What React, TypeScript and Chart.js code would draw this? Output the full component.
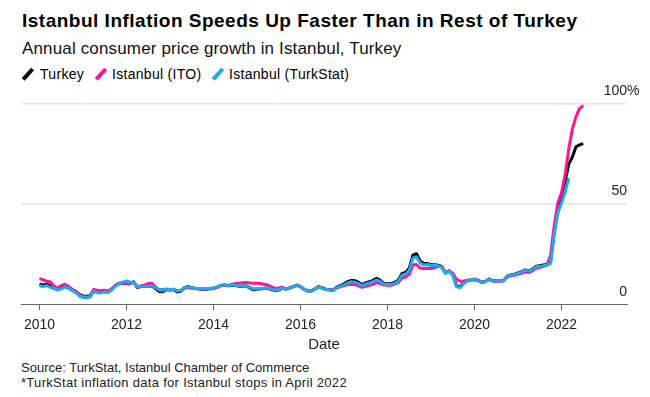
import { useEffect, useRef } from "react";
import { Chart, registerables } from "chart.js";

Chart.register(...registerables);

const FONT = "'Liberation Sans', Arial, Helvetica, sans-serif";

const titleText = "Istanbul Inflation Speeds Up Faster Than in Rest of Turkey";
const subtitleText = "Annual consumer price growth in Istanbul, Turkey";
const sourceText = "Source: TurkStat, Istanbul Chamber of Commerce";
const noteText = "*TurkStat inflation data for Istanbul stops in April 2022";
const xTitle = "Date";

// Monthly series, first observation February 2010
const startYear = 2010;
const startMonth = 2;

const seriesNames = ["Turkey", "Istanbul (ITO)", "Istanbul (TurkStat)"];
const seriesColors = ["#000000", "#ff1493", "#1aa9f2"];

const turkey = [
  10.13, 9.56, 10.19, 9.1, 8.37, 7.58, 8.33, 9.24, 8.62, 7.29, 6.4,
  4.9, 4.16, 3.99, 4.26, 7.17, 6.24, 6.31, 6.65, 6.15, 7.66, 9.48, 10.45,
  10.61, 10.43, 10.43, 11.14, 8.28, 8.87, 9.07, 8.88, 9.19, 7.8, 6.37, 6.16,
  7.31, 7.03, 7.29, 6.13, 6.51, 8.3, 8.88, 8.17, 7.88, 7.71, 7.32, 7.4,
  7.75, 7.89, 8.39, 9.38, 9.66, 9.16, 9.32, 9.54, 8.86, 8.96, 9.15, 8.17,
  7.24, 7.55, 7.61, 7.91, 8.09, 7.2, 6.81, 7.14, 7.95, 7.58, 8.1, 8.81,
  9.58, 8.78, 7.46, 6.57, 6.58, 7.64, 8.79, 8.05, 7.28, 7.16, 7.0, 8.53,
  9.22, 10.13, 11.29, 11.87, 11.72, 10.9, 9.79, 10.68, 11.2, 11.9, 12.98, 11.92,
  10.35, 10.26, 10.23, 10.85, 12.15, 15.39, 15.85, 17.9, 24.52, 25.24, 21.62, 20.3,
  20.35, 19.67, 19.71, 19.5, 18.71, 15.72, 16.65, 15.01, 9.26, 8.55, 10.56, 11.84,
  12.15, 12.37, 11.86, 10.94, 11.39, 12.62, 11.76, 11.77, 11.75, 11.89, 14.03, 14.6,
  14.97, 15.61, 16.19, 17.14, 16.59, 17.53, 18.95, 19.25, 19.58, 19.89, 21.31, 36.08,
  48.69, 54.44, 61.14, 69.97, 73.5, 78.62, 79.6, 80.21,
];

const istanbulIto = [
  12.8, 12.2, 11.5, 11.2, 9.0, 8.0, 9.3, 10.0, 8.8, 7.4, 6.2,
  4.6, 3.8, 3.6, 4.0, 7.4, 7.0, 6.9, 7.0, 6.6, 7.8, 9.5, 10.4,
  10.7, 10.3, 10.4, 10.9, 8.6, 9.2, 9.6, 10.3, 10.5, 8.6, 7.0, 6.6,
  7.2, 7.3, 7.4, 6.6, 6.9, 7.9, 8.3, 8.0, 7.8, 7.6, 7.5, 7.7,
  7.9, 7.9, 8.3, 9.2, 9.5, 9.4, 9.8, 10.4, 10.4, 10.7, 10.9, 10.6,
  10.5, 10.5, 10.3, 10.0, 9.6, 8.7, 8.0, 8.1, 8.5, 7.6, 8.0, 8.8,
  9.4, 8.6, 7.4, 6.8, 6.8, 7.6, 8.7, 8.4, 7.5, 7.2, 7.1, 8.1,
  8.7, 9.2, 9.9, 10.0, 9.8, 9.2, 8.4, 9.0, 9.4, 9.9, 10.8, 10.3,
  9.6, 9.5, 9.4, 10.0, 10.8, 13.2, 13.6, 15.0, 19.6, 19.8, 18.0, 17.8,
  17.8, 17.8, 18.2, 19.0, 18.5, 15.8, 16.6, 15.4, 12.6, 11.6, 11.5, 12.0,
  11.8, 12.6, 12.0, 10.8, 11.2, 12.4, 11.6, 11.5, 11.4, 11.6, 13.6, 14.2,
  14.4, 15.0, 15.4, 16.0, 15.8, 16.6, 18.0, 18.4, 18.8, 19.6, 24.5, 39.3,
  50.5, 55.7, 64.6, 77.6, 87.5, 93.7, 97.8, 99.1,
];

const istanbulTurkStat = [
  9.2, 8.8, 9.3, 8.4, 7.8, 7.0, 7.7, 8.6, 8.0, 6.8, 5.8,
  4.1, 3.4, 3.2, 3.6, 6.4, 5.6, 5.7, 6.1, 5.8, 7.2, 9.1, 10.2,
  11.0, 11.6, 11.0, 11.0, 8.6, 9.0, 9.0, 8.9, 9.2, 8.2, 7.4, 7.4,
  7.6, 7.3, 7.5, 6.6, 6.8, 8.3, 8.8, 8.3, 8.0, 7.9, 7.6, 7.7,
  8.0, 8.2, 8.6, 9.4, 9.7, 9.3, 9.5, 9.6, 9.0, 9.1, 9.2, 8.4,
  7.6, 7.8, 7.8, 8.0, 8.2, 7.4, 7.0, 7.3, 8.0, 7.7, 8.1, 8.7,
  9.4, 8.7, 7.5, 6.6, 6.6, 7.6, 8.6, 8.0, 7.3, 7.1, 7.0, 8.3,
  8.9, 9.7, 10.6, 11.2, 11.0, 10.3, 9.3, 10.1, 10.6, 11.2, 12.2, 11.4,
  10.0, 9.9, 9.9, 10.4, 11.6, 14.6, 15.1, 17.0, 23.0, 23.7, 20.6, 19.6,
  19.8, 19.3, 19.4, 19.2, 18.3, 15.4, 16.3, 14.6, 8.8, 8.2, 10.3, 11.6,
  12.0, 12.3, 11.8, 10.8, 11.3, 12.5, 11.7, 11.7, 11.7, 11.8, 13.9, 14.5,
  14.8, 15.5, 16.0, 17.0, 16.4, 17.3, 18.7, 18.9, 19.2, 19.5, 20.4, 35.0,
  45.5, 50.5, 55.8, 63.0,
];

const xTickYears = [2010, 2012, 2014, 2016, 2018, 2020, 2022];
const yTicks = [0, 50, 100];
const yUnit = "%";

// month index -> fractional year on the time axis
const monthToYear = (i: number) => startYear + (startMonth - 2 + i) / 12;
const toPoints = (arr: number[]) => arr.map((v, i) => ({ x: monthToYear(i), y: v }));

const yLabelPlugin = {
  id: "yLabels",
  afterDraw(chart: any) {
    const { ctx, chartArea, scales } = chart;
    const y = scales.y;
    ctx.save();
    ctx.font = `14px ${FONT}`;
    ctx.fillStyle = "#222";
    ctx.textBaseline = "middle";
    const top = yTicks[yTicks.length - 1];
    yTicks.forEach((v) => {
      const py = y.getPixelForValue(v) - 12.5;
      const s = String(v);
      if (v === top) {
        const w = ctx.measureText(s).width;
        ctx.textAlign = "left";
        ctx.fillText(s + yUnit, chartArea.right - w, py);
      } else {
        ctx.textAlign = "right";
        ctx.fillText(s, chartArea.right, py);
      }
    });
    ctx.restore();
  },
};

export default function App() {
  const ref = useRef<HTMLCanvasElement>(null);

  useEffect(() => {
    const series = [turkey, istanbulIto, istanbulTurkStat];
    const chart = new Chart(ref.current!, {
      type: "line",
      data: {
        datasets: series.map((arr, k) => ({
          label: seriesNames[k],
          data: toPoints(arr),
          borderColor: seriesColors[k],
          backgroundColor: seriesColors[k],
          borderWidth: 3,
          pointRadius: 0,
          tension: 0,
          borderJoinStyle: "round" as const,
          borderCapStyle: "butt" as const,
          order: 3 - k,
        })),
      },
      options: {
        animation: false,
        responsive: false,
        maintainAspectRatio: false,
        layout: { padding: { left: 21, right: 23, top: 19, bottom: 0 } },
        plugins: {
          legend: { display: false },
          tooltip: { enabled: false },
        },
        scales: {
          x: {
            type: "linear",
            min: 2009.575,
            max: 2023.506,
            afterBuildTicks: (s: any) => {
              s.ticks = xTickYears.map((v) => ({ value: v }));
            },
            ticks: {
              callback: (v: any) => String(v),
              font: { size: 14, family: FONT },
              color: "#222",
              padding: 7,
              maxRotation: 0,
              autoSkip: false,
            },
            grid: {
              drawOnChartArea: false,
              drawTicks: true,
              tickLength: 6,
              color: "#666",
            },
            border: { display: true, color: "#666", width: 1 },
            title: {
              display: true,
              text: xTitle,
              font: { size: 15, family: FONT, lineHeight: 1 },
              color: "#222",
              padding: { top: -4, bottom: 4 },
            },
          },
          y: {
            min: 0,
            max: 100,
            afterBuildTicks: (s: any) => {
              s.ticks = yTicks.map((v) => ({ value: v }));
            },
            ticks: { display: false },
            grid: {
              drawTicks: false,
              color: (c: any) => (c.tick && c.tick.value === 0 ? "rgba(0,0,0,0)" : "#e4e4e4"),
              lineWidth: 1.5,
            },
            border: { display: false },
          },
        },
      },
      plugins: [yLabelPlugin],
    });
    return () => chart.destroy();
  }, []);

  const legendLefts = [40, 112, 229];
  const iconLefts = [22, 95, 212];

  return (
    <div
      style={{
        position: "absolute",
        left: 0,
        top: 0,
        width: 650,
        height: 397,
        background: "#fff",
        fontFamily: FONT,
        color: "#000",
        overflow: "hidden",
      }}
    >
      <div
        style={{
          position: "absolute",
          left: 22,
          top: 10,
          fontSize: 19,
          lineHeight: "22px",
          fontWeight: "bold",
          letterSpacing: 0.5,
          whiteSpace: "nowrap",
        }}
      >
        {titleText}
      </div>
      <div
        style={{
          position: "absolute",
          left: 22,
          top: 39,
          fontSize: 17,
          lineHeight: "20px",
          letterSpacing: 0.15,
          color: "#111",
          whiteSpace: "nowrap",
        }}
      >
        {subtitleText}
      </div>
      {seriesNames.map((name, k) => (
        <div key={name}>
          <div
            style={{
              position: "absolute",
              left: iconLefts[k] + 4,
              top: 67,
              width: 3.5,
              height: 14,
              background: seriesColors[k],
              transform: "rotate(42deg)",
            }}
          />
          <div
            style={{
              position: "absolute",
              left: legendLefts[k],
              top: 66,
              fontSize: 14,
              lineHeight: "16px",
              letterSpacing: 0.3,
              whiteSpace: "nowrap",
            }}
          >
            {name}
          </div>
        </div>
      ))}
      <canvas
        ref={ref}
        width={650}
        height={271}
        style={{ position: "absolute", left: 0, top: 85, width: 650, height: 271 }}
      />
      <div
        style={{
          position: "absolute",
          left: 21,
          top: 360,
          fontSize: 13,
          lineHeight: "15px",
          color: "#222",
          whiteSpace: "nowrap",
        }}
      >
        {sourceText}
      </div>
      <div
        style={{
          position: "absolute",
          left: 21,
          top: 375,
          fontSize: 13,
          lineHeight: "15px",
          letterSpacing: 0.3,
          color: "#222",
          whiteSpace: "nowrap",
        }}
      >
        {noteText}
      </div>
    </div>
  );
}
